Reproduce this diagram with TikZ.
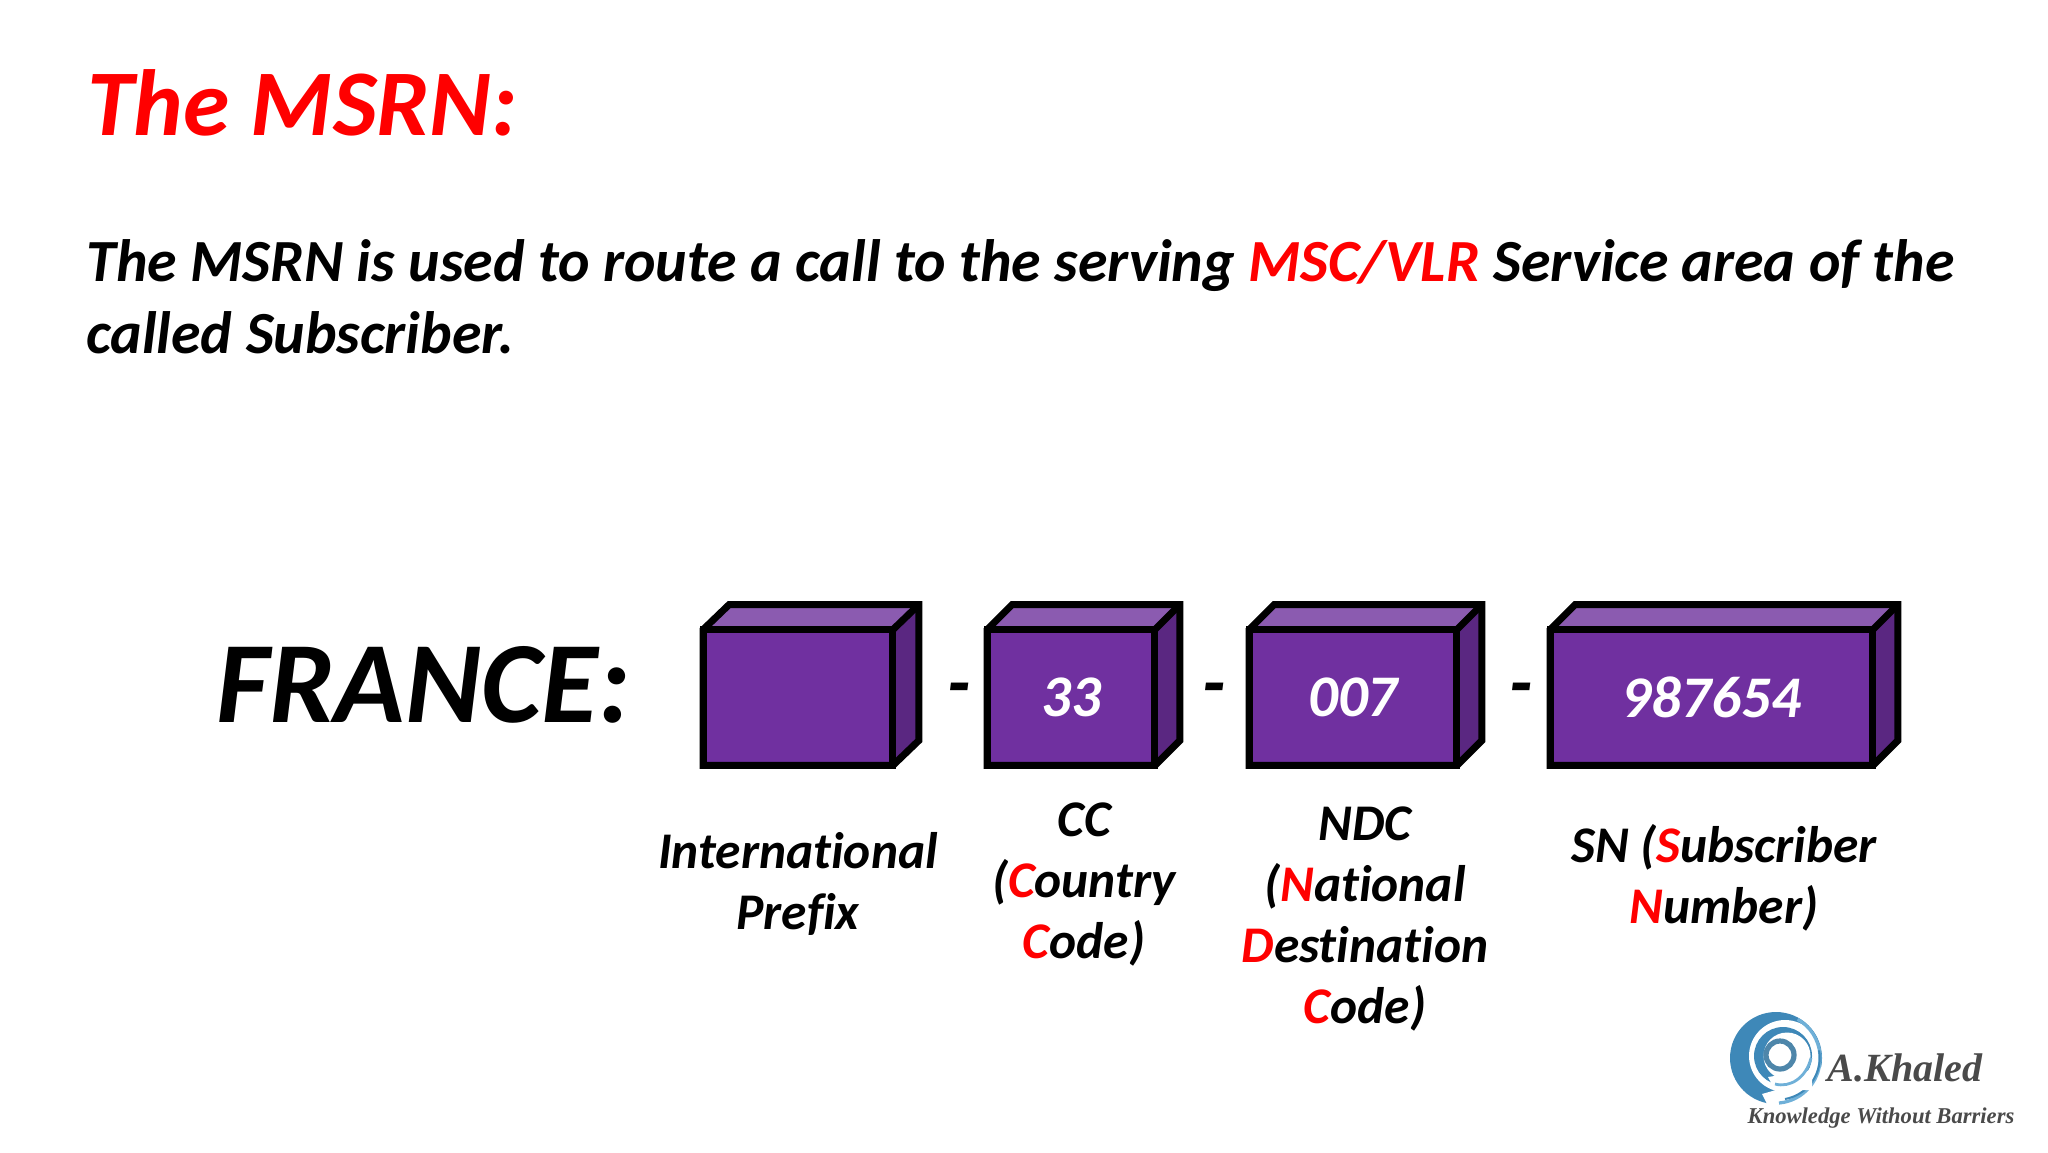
\documentclass[tikz,border=0pt]{standalone}
\usepackage{fontspec}
\setmainfont[Ligatures=NoCommon]{Carlito}
\newfontfamily\logofont{Liberation Serif}
\usetikzlibrary{calc}
\definecolor{boxfront}{HTML}{7030A0}
\definecolor{boxtop}{HTML}{8B5BB0}
\definecolor{boxside}{HTML}{5A2781}
\definecolor{msrnred}{HTML}{FF0000}
\definecolor{logoblue}{HTML}{3E88B8}
\definecolor{logolight}{HTML}{6FB0D8}
\definecolor{logotext}{HTML}{4A4A4A}
\newcommand{\rd}[1]{\textcolor{msrnred}{#1}}
\newcommand{\msrnbox}[5]{% name, x0, x1, x2(right back), text
  \node[front, minimum width=#3*0.5pt-#2*0.5pt-3.5pt] (#1) at ({(#2+#3)/2},{697.5}) {\raisebox{-1pt}{#5}};
  \coordinate (#1nw) at ($(#1.north west)+(#4-#3,-25)$);
  \coordinate (#1ne) at ($(#1.north east)+(#4-#3,-25)$);
  \coordinate (#1se) at ($(#1.south east)+(#4-#3,-25)$);
  \fill[boxtop] (#1.north west) -- (#1nw) -- (#1ne) -- (#1.north east) -- cycle;
  \fill[boxside] (#1.north east) -- (#1ne) -- (#1se) -- (#1.south east) -- cycle;
  \draw[edge] (#1.north west) -- (#1nw) -- (#1ne) -- (#1se) -- (#1.south east) -- (#1.south west) -- cycle;
  \draw[edge] (#1.north east) -- (#1ne);
  \draw[edge] (#1.north west) rectangle (#1.south east);
}
\tikzset{
  front/.style={fill=boxfront, rectangle, minimum height=67.5pt, inner sep=0pt, text=white, font=\fontsize{29.5}{29.5}\selectfont\bfseries\itshape},
  edge/.style={draw=black, line width=3.5pt, line join=miter},
  title/.style={anchor=base west, inner sep=0pt, text=msrnred, font=\fontsize{47}{47}\selectfont\bfseries\itshape},
  para/.style={anchor=base west, inner sep=0pt, font=\fontsize{29.9}{29.9}\selectfont\bfseries\itshape},
  country/.style={anchor=base west, inner sep=0pt, font=\fontsize{58}{58}\selectfont\bfseries\itshape},
  lab/.style={align=center, inner sep=0pt, font=\fontsize{25.7}{30.5}\selectfont\bfseries\itshape},
  sep/.style={inner sep=0pt, font=\fontsize{38}{38}\selectfont\bfseries\itshape},
  logotxt/.style={inner sep=0pt, text=logotext},
}
\begin{document}
\begin{tikzpicture}[x=0.5pt,y=-0.5pt]
\useasboundingbox (0,0) rectangle (2048,1152);
\fill[white] (0,0) rectangle (2048,1152);
\node[title] (ttl) at (87,135) {The MSRN:};
\node[para] (p1) at (86,281) {The MSRN is used to route a call to the serving \rd{MSC/VLR} Service area of the};
\node[para] (p2) at (86,353) {called Subscriber.};
\node[country] (fr) at (216,722) {FRANCE:};
\msrnbox{b1}{700}{896}{922}{}
\msrnbox{b2}{984}{1158}{1183}{33}
\msrnbox{b3}{1246}{1460}{1485}{007}
\msrnbox{b4}{1547}{1876}{1901}{987654}
\node[sep] (d1) at (959,696) {-};
\node[sep] (d2) at (1214,696) {-};
\node[sep] (d3) at (1521,696) {-};
\node[lab] (l1) at (798,884) {International\\Prefix};
\node[lab] (l2) at (1084,884) {CC\\(\rd{C}ountry\\\rd{C}ode)};
\node[lab] (l3) at (1365,919) {NDC\\(\rd{N}ational\\\rd{D}estination\\\rd{C}ode)};
\node[lab] (l4) at (1724,878) {SN (\rd{S}ubscriber\\\rd{N}umber)};
% logo
\fill[logoblue] (1776,1058) circle (46);
\fill[white] (1785,1056) circle (36);
\fill[white] (1762,1094) -- (1790,1086) -- (1800,1060) -- (1830,1070) -- (1815,1110) -- (1770,1110) -- cycle;
\draw[logolight, line width=1.6pt] (1779,1103) arc (85:-60:45);
\draw[logoblue, line width=1pt] (1785,1099) arc (80:-10:42);
\fill[logoblue] (1783,1056) circle (29);
\fill[white] (1787,1056) circle (23.5);
\fill[white] (1768,1077) -- (1812,1070) -- (1812,1090) -- (1775,1090) -- cycle;
\draw[logolight, line width=1.4pt] (1775,1084) .. controls (1790,1088) and (1806,1078) .. (1811,1058);
\draw[logoblue!75!gray, line width=2.6pt] (1780,1055) circle (14);
\fill[white] (1779,1055) circle (8);
\node[logotxt, font=\fontsize{20}{20}\selectfont\logofont\bfseries\itshape] (lg1) at (1905,1068) {A.Khaled};
\node[logotxt, font=\fontsize{11.3}{11.3}\selectfont\logofont\bfseries\itshape] (lg2) at (1881,1118) {Knowledge Without Barriers};
\end{tikzpicture}
\end{document}
